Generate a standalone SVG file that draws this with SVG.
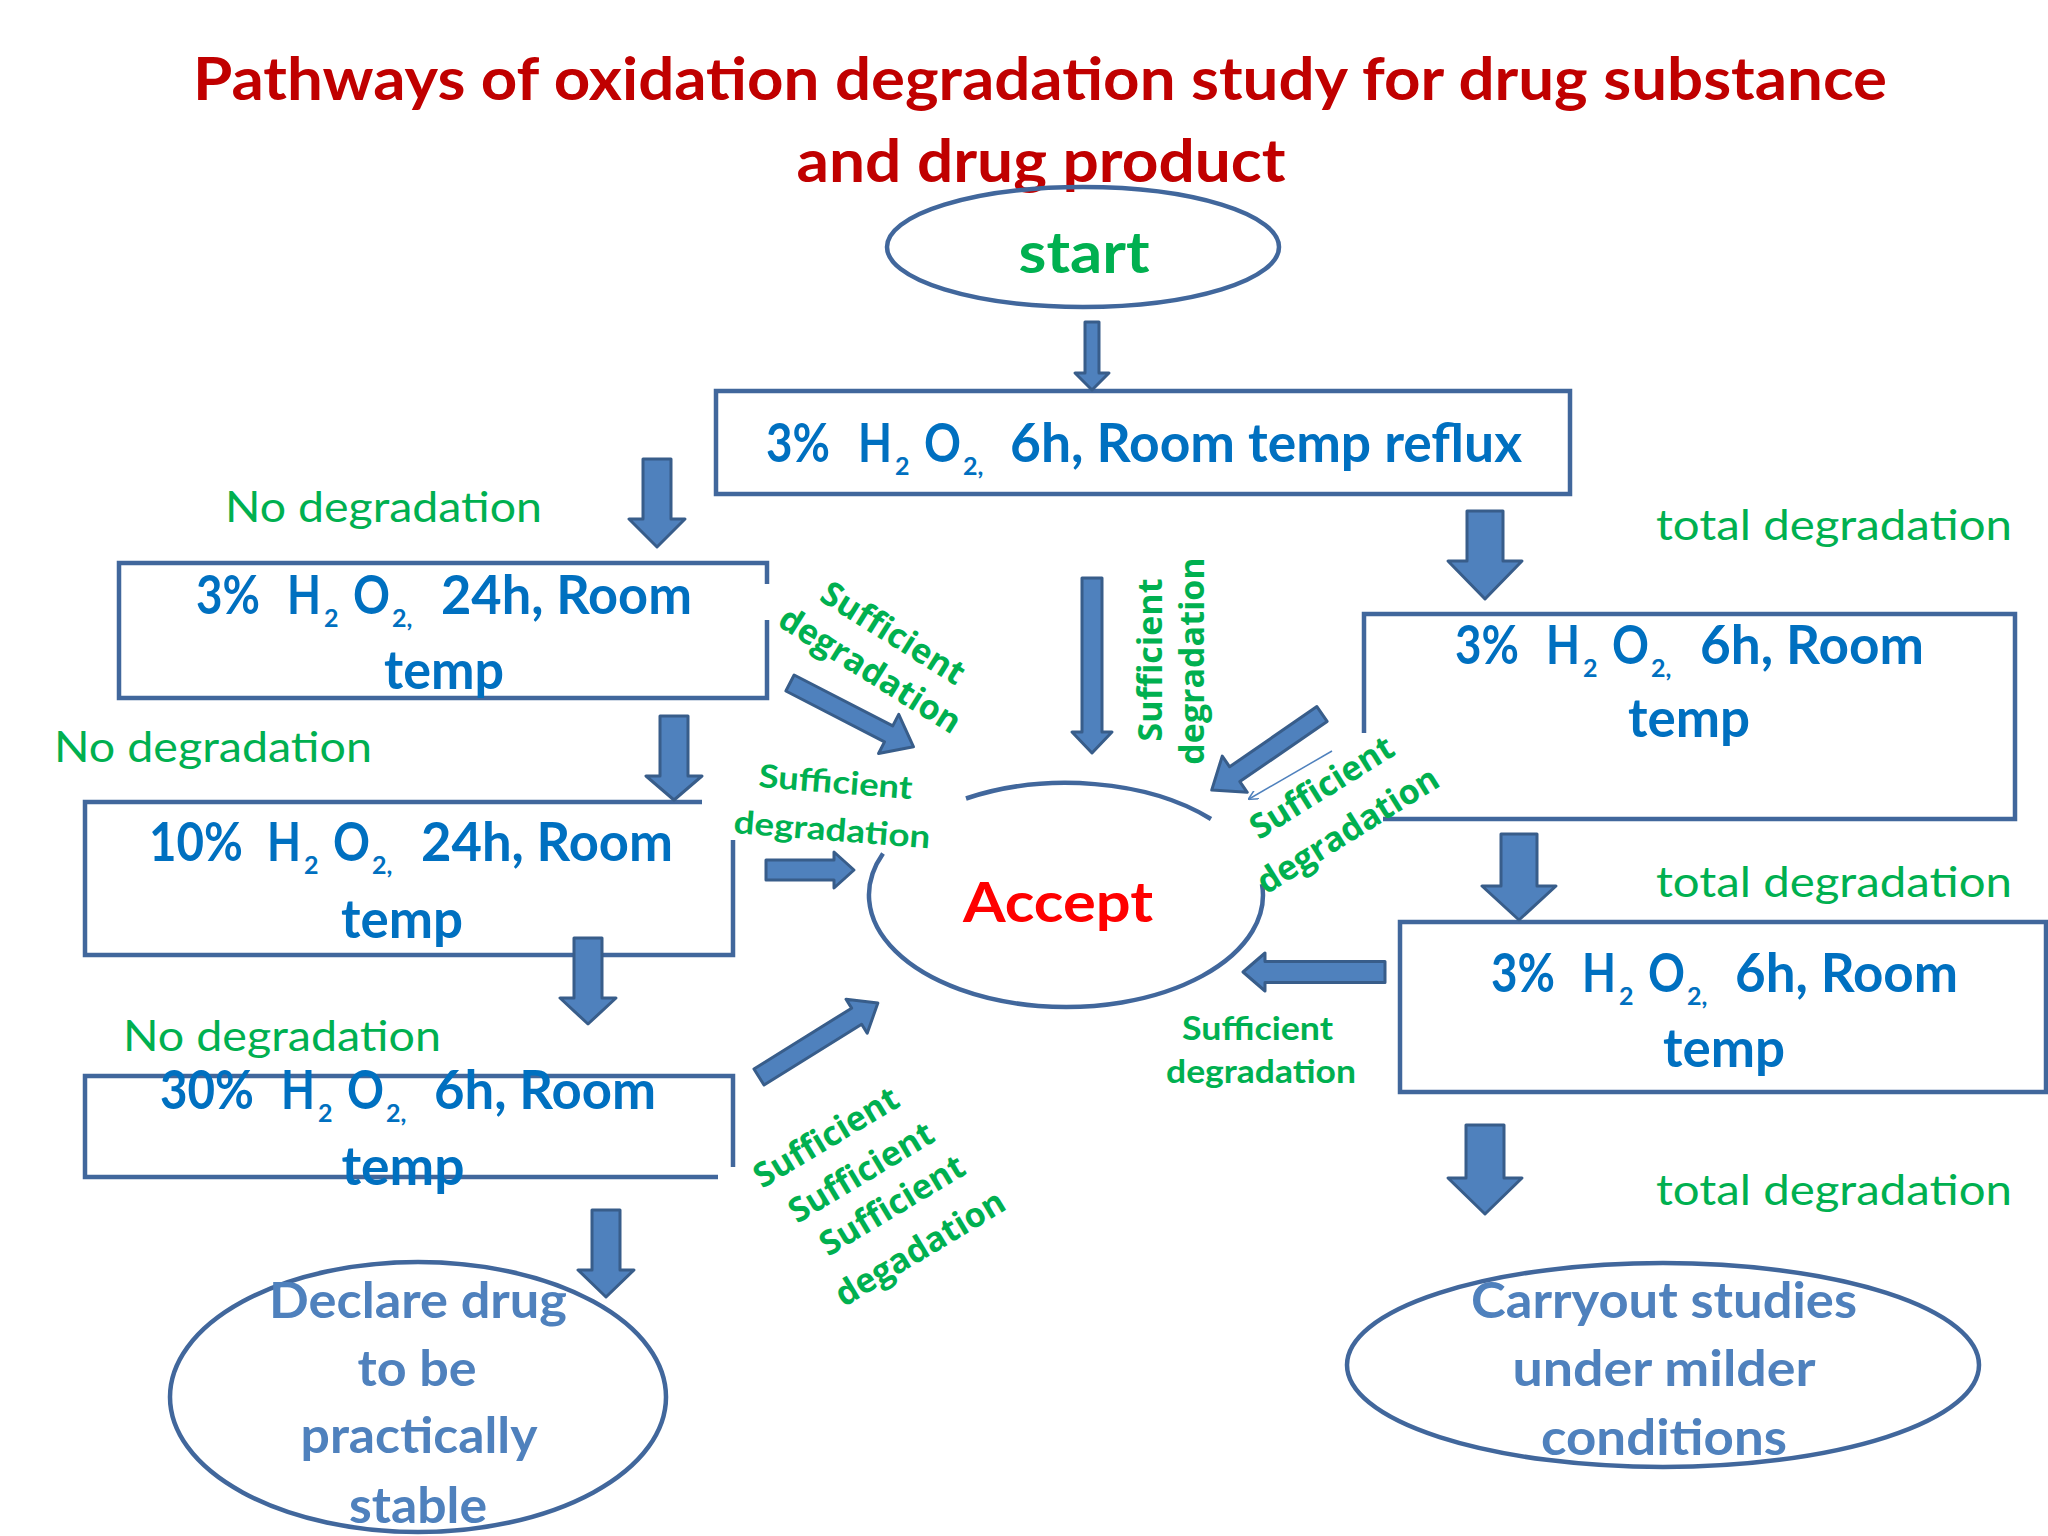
<svg xmlns="http://www.w3.org/2000/svg" width="2048" height="1536" viewBox="0 0 2048 1536">
<style>
text{font-family:Lato,"Liberation Sans",sans-serif}
.title{font-weight:700;fill:#C00000;font-size:60px}
.bx{font-weight:700;fill:#0070C0;font-size:54px}
.sub{font-weight:700;fill:#0070C0;font-size:25px}
.gr{fill:#00B050;font-size:42px}
.gb{fill:#00B050;font-weight:700;font-size:32px}
.ob{font-family:"Open Sans","DejaVu Sans",sans-serif;fill:#00B050;font-weight:700;font-size:34px}
.et{fill:#4F81BD;font-weight:700;font-size:50px}
.shape{fill:none;stroke:#41679C;stroke-width:4.5}
.arr{fill:#4F81BD;stroke:#385D8A;stroke-width:3;stroke-linejoin:round}
.mid{text-anchor:middle}
</style>
<defs>
<marker id="thin" viewBox="0 0 10 10" refX="9" refY="5" markerWidth="10" markerHeight="10" orient="auto" markerUnits="userSpaceOnUse">
<path d="M0,0 L10,5 L0,10" fill="none" stroke="#4F81BD" stroke-width="1.5"/>
</marker>
</defs>
<rect width="2048" height="1536" fill="#fff"/>

<g id="title">
<text class="title mid" x="1040" y="100" textLength="1694" lengthAdjust="spacingAndGlyphs">Pathways of oxidation degradation study for drug substance</text>
<text class="title mid" x="1041" y="182" textLength="489" lengthAdjust="spacingAndGlyphs">and drug product</text>
</g>

<g id="start">
<ellipse class="shape" cx="1083" cy="247" rx="196" ry="60"/>
<text class="mid" x="1084" y="273" font-weight="700" font-size="58" fill="#00B050" textLength="131" lengthAdjust="spacingAndGlyphs">start</text>
</g>

<g id="box1">
<rect class="shape" x="716" y="391" width="854" height="103"/>
<text class="bx" x="766" y="462" textLength="64" lengthAdjust="spacingAndGlyphs">3%</text>
<text class="bx" x="858" y="462" textLength="34" lengthAdjust="spacingAndGlyphs">H</text>
<text class="sub" x="895" y="475">2</text>
<text class="bx" x="924" y="462" textLength="37" lengthAdjust="spacingAndGlyphs">O</text>
<text class="sub" x="963" y="475">2,</text>
<text class="bx" x="1010" y="462" textLength="512" lengthAdjust="spacingAndGlyphs">6h, Room temp reflux</text>
</g>

<g id="box2">
<path class="shape" d="M767,584 V563 H119 V698 H767 V620"/>
<text class="bx" x="196" y="614" textLength="64" lengthAdjust="spacingAndGlyphs">3%</text>
<text class="bx" x="287" y="614" textLength="34" lengthAdjust="spacingAndGlyphs">H</text>
<text class="sub" x="324" y="627">2</text>
<text class="bx" x="353" y="614" textLength="37" lengthAdjust="spacingAndGlyphs">O</text>
<text class="sub" x="392" y="627">2,</text>
<text class="bx" x="441" y="614" textLength="251" lengthAdjust="spacingAndGlyphs">24h, Room</text>
<text class="bx mid" x="444" y="689" textLength="120" lengthAdjust="spacingAndGlyphs">temp</text>
</g>

<g id="box3">
<path class="shape" d="M702,802 H85 V955 H733 V840"/>
<text class="bx" x="149" y="861" textLength="94" lengthAdjust="spacingAndGlyphs">10%</text>
<text class="bx" x="267" y="861" textLength="34" lengthAdjust="spacingAndGlyphs">H</text>
<text class="sub" x="304" y="874">2</text>
<text class="bx" x="333" y="861" textLength="37" lengthAdjust="spacingAndGlyphs">O</text>
<text class="sub" x="372" y="874">2,</text>
<text class="bx" x="421" y="861" textLength="252" lengthAdjust="spacingAndGlyphs">24h, Room</text>
<text class="bx mid" x="402" y="938" textLength="122" lengthAdjust="spacingAndGlyphs">temp</text>
</g>

<g id="box4">
<path class="shape" d="M733,1167 V1076 H85 V1177 H718"/>
<text class="bx" x="160" y="1109" textLength="94" lengthAdjust="spacingAndGlyphs">30%</text>
<text class="bx" x="281" y="1109" textLength="34" lengthAdjust="spacingAndGlyphs">H</text>
<text class="sub" x="318" y="1122">2</text>
<text class="bx" x="347" y="1109" textLength="37" lengthAdjust="spacingAndGlyphs">O</text>
<text class="sub" x="386" y="1122">2,</text>
<text class="bx" x="434" y="1109" textLength="222" lengthAdjust="spacingAndGlyphs">6h, Room</text>
<text class="bx mid" x="403" y="1185" textLength="123" lengthAdjust="spacingAndGlyphs">temp</text>
</g>

<g id="box5">
<path class="shape" d="M1364,733 V614 H2015 V819 H1383"/>
<text class="bx" x="1455" y="664" textLength="64" lengthAdjust="spacingAndGlyphs">3%</text>
<text class="bx" x="1546" y="664" textLength="34" lengthAdjust="spacingAndGlyphs">H</text>
<text class="sub" x="1583" y="677">2</text>
<text class="bx" x="1612" y="664" textLength="37" lengthAdjust="spacingAndGlyphs">O</text>
<text class="sub" x="1651" y="677">2,</text>
<text class="bx" x="1700" y="664" textLength="224" lengthAdjust="spacingAndGlyphs">6h, Room</text>
<text class="bx mid" x="1689" y="737" textLength="122" lengthAdjust="spacingAndGlyphs">temp</text>
</g>

<g id="box6">
<rect class="shape" x="1400" y="922" width="646" height="170"/>
<text class="bx" x="1491" y="992" textLength="64" lengthAdjust="spacingAndGlyphs">3%</text>
<text class="bx" x="1582" y="992" textLength="34" lengthAdjust="spacingAndGlyphs">H</text>
<text class="sub" x="1619" y="1005">2</text>
<text class="bx" x="1648" y="992" textLength="37" lengthAdjust="spacingAndGlyphs">O</text>
<text class="sub" x="1687" y="1005">2,</text>
<text class="bx" x="1735" y="992" textLength="223" lengthAdjust="spacingAndGlyphs">6h, Room</text>
<text class="bx mid" x="1724" y="1067" textLength="122" lengthAdjust="spacingAndGlyphs">temp</text>
</g>

<g id="accept">
<path class="shape" d="M966,798.5 A197,112 0 0 1 1211,819 M1262,884 A197,112 0 1 1 883,853.5"/>
<text class="mid" x="1058" y="922" font-weight="700" font-size="56" fill="#FF0000" textLength="190" lengthAdjust="spacingAndGlyphs">Accept</text>
</g>

<g id="declare">
<ellipse class="shape" cx="418" cy="1397" rx="248" ry="135"/>
<text class="et mid" x="418" y="1318" textLength="298" lengthAdjust="spacingAndGlyphs">Declare drug</text>
<text class="et mid" x="417" y="1386" textLength="119" lengthAdjust="spacingAndGlyphs">to be</text>
<text class="et mid" x="419" y="1453" textLength="237" lengthAdjust="spacingAndGlyphs">practically</text>
<text class="et mid" x="418" y="1523" textLength="138" lengthAdjust="spacingAndGlyphs">stable</text>
</g>

<g id="carryout">
<ellipse class="shape" cx="1663" cy="1365" rx="316" ry="102"/>
<text class="et mid" x="1664" y="1318" textLength="386" lengthAdjust="spacingAndGlyphs">Carryout studies</text>
<text class="et mid" x="1664" y="1386" textLength="303" lengthAdjust="spacingAndGlyphs">under milder</text>
<text class="et mid" x="1664" y="1455" textLength="246" lengthAdjust="spacingAndGlyphs">conditions</text>
</g>

<g id="connectors">
<path class="arr" transform="translate(1092,322) rotate(90)" d="M0,-7 H51 V-17 L68,0 L51,17 V7 H0 Z"/>
<path class="arr" transform="translate(657,459) rotate(90)" d="M0,-14 H60 V-28 L88,0 L60,28 V14 H0 Z"/>
<path class="arr" transform="translate(674,716) rotate(90)" d="M0,-14 H60 V-28 L84,0 L60,28 V14 H0 Z"/>
<path class="arr" transform="translate(588,938) rotate(90)" d="M0,-14 H60 V-28 L86,0 L60,28 V14 H0 Z"/>
<path class="arr" transform="translate(606,1210) rotate(90)" d="M0,-14 H60 V-28 L87,0 L60,28 V14 H0 Z"/>
<path class="arr" transform="translate(1485,511) rotate(90)" d="M0,-18 H50 V-37 L88,0 L50,37 V18 H0 Z"/>
<path class="arr" transform="translate(1519,834) rotate(90)" d="M0,-18 H52 V-37 L86,0 L52,37 V18 H0 Z"/>
<path class="arr" transform="translate(1485,1125) rotate(90)" d="M0,-19 H53 V-37 L89,0 L53,37 V19 H0 Z"/>
<path class="arr" transform="translate(790,683) rotate(27.3)" d="M0,-9 H111 V-22 L139,0 L111,22 V9 H0 Z"/>
<path class="arr" transform="translate(1092,578) rotate(90)" d="M0,-10 H154 V-20 L175,0 L154,20 V10 H0 Z"/>
<path class="arr" transform="translate(1322,714) rotate(145.4)" d="M0,-9 H106 V-22 L134,0 L106,22 V9 H0 Z"/>
<path class="arr" transform="translate(766,870)" d="M0,-10 H68 V-18 L88,0 L68,18 V10 H0 Z"/>
<path class="arr" transform="translate(759,1077) rotate(-31.9)" d="M0,-9.5 H115 V-20 L140,0 L115,20 V9.5 H0 Z"/>
<path class="arr" transform="translate(1385,972) rotate(180)" d="M0,-10.5 H120 V-19 L142,0 L120,19 V10.5 H0 Z"/>
<line x1="1332" y1="751" x2="1249" y2="799" stroke="#4F81BD" stroke-width="1.5" marker-end="url(#thin)"/>
</g>

<g id="labels">
<text class="gr" x="225" y="522" textLength="317" lengthAdjust="spacingAndGlyphs">No degradation</text>
<text class="gr" x="54" y="762" textLength="318" lengthAdjust="spacingAndGlyphs">No degradation</text>
<text class="gr" x="123" y="1051" textLength="318" lengthAdjust="spacingAndGlyphs">No degradation</text>
<text class="gr" x="1656" y="540" textLength="356" lengthAdjust="spacingAndGlyphs">total degradation</text>
<text class="gr" x="1656" y="897" textLength="356" lengthAdjust="spacingAndGlyphs">total degradation</text>
<text class="gr" x="1656" y="1205" textLength="356" lengthAdjust="spacingAndGlyphs">total degradation</text>
<text class="gb" x="1182" y="1040" textLength="151" lengthAdjust="spacingAndGlyphs">Sufficient</text>
<text class="gb" x="1166" y="1083" textLength="190" lengthAdjust="spacingAndGlyphs">degradation</text>
<text class="gb" x="758" y="787" transform="rotate(4.5,758,787)" textLength="154" lengthAdjust="spacingAndGlyphs">Sufficient</text>
<text class="gb" x="733" y="833" transform="rotate(4.5,733,833)" textLength="197" lengthAdjust="spacingAndGlyphs">degradation</text>
<text class="ob mid" transform="translate(887,643) rotate(32)">Sufficient</text>
<text class="ob mid" transform="translate(864,680) rotate(32)">degradation</text>
<text class="ob mid" transform="translate(1162,660) rotate(-90)">Sufficient</text>
<text class="ob mid" transform="translate(1204,661) rotate(-90)">degradation</text>
<text class="ob mid" transform="translate(1328,797) rotate(-32)">Sufficient</text>
<text class="ob mid" transform="translate(1354,840) rotate(-32)">degradation</text>
<text class="ob mid" transform="translate(832,1147) rotate(-31)">Sufficient</text>
<text class="ob mid" transform="translate(867,1182) rotate(-31)">Sufficient</text>
<text class="ob mid" transform="translate(898,1215) rotate(-31)">Sufficient</text>
<text class="ob mid" transform="translate(926,1258) rotate(-31)">degadation</text>
</g>
</svg>
